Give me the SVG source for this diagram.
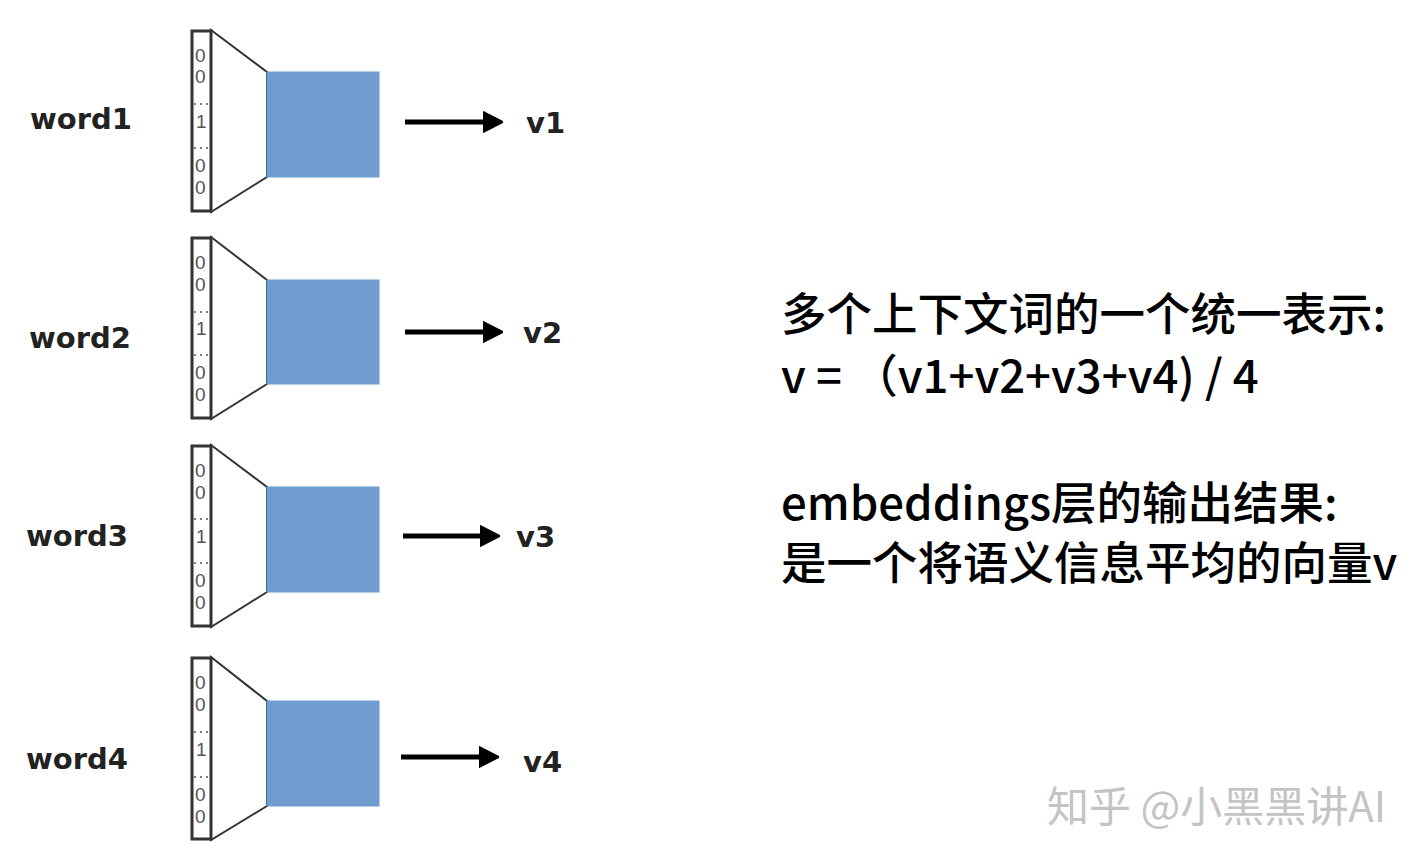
<svg xmlns="http://www.w3.org/2000/svg" width="1427" height="864" viewBox="0 0 1427 864">
<style>
.vec{fill:#fff;stroke:#333;stroke-width:3}
.trap{fill:#fff;stroke:#333;stroke-width:2}
.blue{fill:#6f9dd0;stroke:#6f9dd0;stroke-width:1}
.dig{font-family:"Liberation Sans",Arial,sans-serif;font-size:19px;fill:#555}
.dot{stroke:#555;stroke-width:1.5;stroke-dasharray:2 4}
.word{font-family:"DejaVu Sans","Liberation Sans",sans-serif;font-weight:bold;font-size:29px;fill:#222}
.vl{font-family:"DejaVu Sans","Liberation Sans",sans-serif;font-weight:bold;font-size:29px;fill:#222}
.arr{stroke:#000;stroke-width:5;fill:none}
.txt{font-family:"Noto Sans CJK SC","Noto Sans",sans-serif;font-size:45.5px;font-weight:500;fill:#000}
.wm{font-family:"Noto Sans CJK SC","Liberation Sans",sans-serif;font-size:42px;fill:#c4c4c4}
</style>
<defs>
<marker id="ah" viewBox="0 0 10 10" refX="2" refY="5" markerWidth="4" markerHeight="4.4" orient="auto" markerUnits="strokeWidth">
<path d="M0,0 L10,5 L0,10 Z" fill="#000" stroke="#000" stroke-linejoin="round"/>
</marker>
</defs>
<rect width="1427" height="864" fill="#fff"/>

<g id="node1">
<text class="word" x="30" y="129">word1</text>
<polygon class="trap" points="211,30 267,72 267,177 211,212"/>
<rect class="blue" x="267" y="72" width="112" height="105"/>
<rect class="vec" x="192" y="31" width="19" height="180"/>
<text class="dig" x="195" y="62">0</text>
<text class="dig" x="195" y="83">0</text>
<line class="dot" x1="194" y1="104" x2="210" y2="104"/>
<text class="dig" x="196" y="128">1</text>
<line class="dot" x1="194" y1="148" x2="210" y2="148"/>
<text class="dig" x="195" y="172">0</text>
<text class="dig" x="195" y="194">0</text>
</g>

<g id="node2">
<text class="word" x="29" y="348">word2</text>
<polygon class="trap" points="211,237 267,280 267,384 211,419"/>
<rect class="blue" x="267" y="280" width="112" height="104"/>
<rect class="vec" x="192" y="238" width="19" height="180"/>
<text class="dig" x="195" y="269">0</text>
<text class="dig" x="195" y="291">0</text>
<line class="dot" x1="194" y1="312" x2="210" y2="312"/>
<text class="dig" x="196" y="335">1</text>
<line class="dot" x1="194" y1="355" x2="210" y2="355"/>
<text class="dig" x="195" y="379">0</text>
<text class="dig" x="195" y="401">0</text>
</g>

<g id="node3">
<text class="word" x="26" y="546">word3</text>
<polygon class="trap" points="211,445 267,487 267,592 211,627"/>
<rect class="blue" x="267" y="487" width="112" height="105"/>
<rect class="vec" x="192" y="446" width="19" height="180"/>
<text class="dig" x="195" y="477">0</text>
<text class="dig" x="195" y="499">0</text>
<line class="dot" x1="194" y1="519" x2="210" y2="519"/>
<text class="dig" x="196" y="543">1</text>
<line class="dot" x1="194" y1="563" x2="210" y2="563"/>
<text class="dig" x="195" y="587">0</text>
<text class="dig" x="195" y="609">0</text>
</g>

<g id="node4">
<text class="word" x="26" y="769">word4</text>
<polygon class="trap" points="211,657 267,701 267,806 211,840"/>
<rect class="blue" x="267" y="701" width="112" height="105"/>
<rect class="vec" x="192" y="658" width="19" height="181"/>
<text class="dig" x="195" y="689">0</text>
<text class="dig" x="195" y="711">0</text>
<line class="dot" x1="194" y1="732" x2="210" y2="732"/>
<text class="dig" x="196" y="756">1</text>
<line class="dot" x1="194" y1="777" x2="210" y2="777"/>
<text class="dig" x="195" y="801">0</text>
<text class="dig" x="195" y="823">0</text>
</g>

<g id="connectors">
<line class="arr" x1="405" y1="122" x2="487" y2="122" marker-end="url(#ah)"/>
<line class="arr" x1="405" y1="332" x2="487" y2="332" marker-end="url(#ah)"/>
<line class="arr" x1="403" y1="536" x2="484" y2="536" marker-end="url(#ah)"/>
<line class="arr" x1="401" y1="757" x2="483" y2="757" marker-end="url(#ah)"/>
</g>

<g id="v1"><text class="vl" x="526" y="133">v1</text></g>
<g id="v2"><text class="vl" x="523" y="343">v2</text></g>
<g id="v3"><text class="vl" x="516" y="547">v3</text></g>
<g id="v4"><text class="vl" x="523" y="772">v4</text></g>

<g id="desc">
<text class="txt" x="781" y="331">多个上下文词的一个统一表示:</text>
<text class="txt" x="781" y="393">v =  （v1+v2+v3+v4) / 4</text>
<text class="txt" x="781" y="520">embeddings层的输出结果:</text>
<text class="txt" x="781" y="580">是一个将语义信息平均的向量v</text>
</g>

<g id="watermark">
<text class="wm" x="1047" y="822">知乎 @小黑黑讲AI</text>
</g>
</svg>
